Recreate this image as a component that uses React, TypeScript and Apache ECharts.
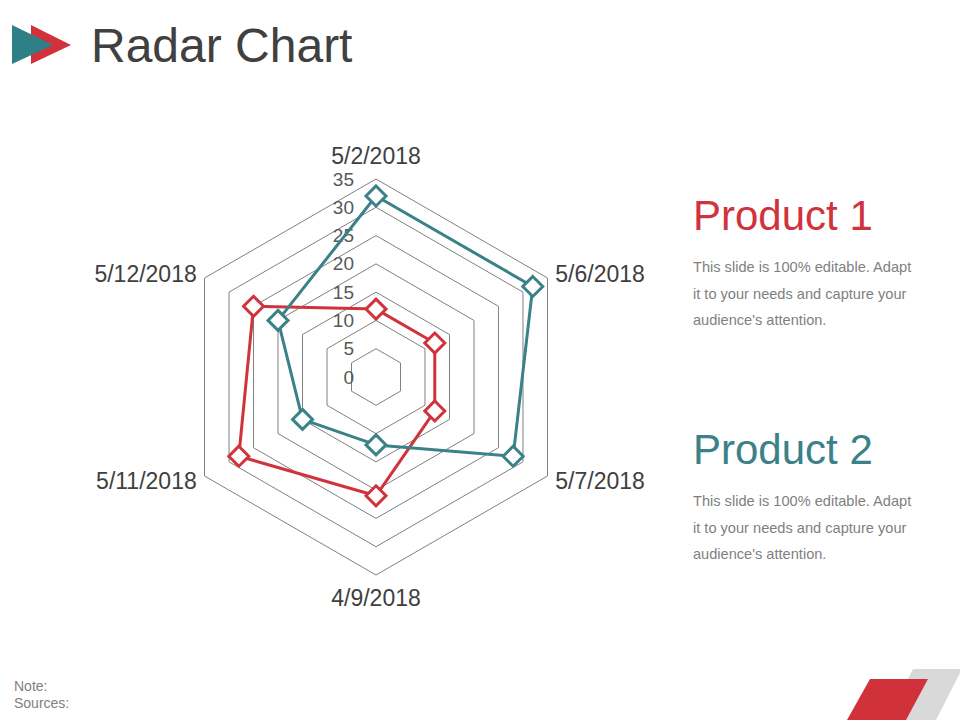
import React, { useEffect, useRef } from "react";
import * as echarts from "echarts";

// Axes listed clockwise from the top
const categories = ["5/2/2018", "5/6/2018", "5/7/2018", "4/9/2018", "5/11/2018", "5/12/2018"];
const product1 = [12, 12, 12, 21, 28, 25];
const product2 = [32, 32, 28, 12, 15, 20];
const axisMin = 0;
const axisMax = 35;
const axisSplits = 7;

const seriesNames = ["Product 1", "Product 2"];
const bodyLines = [
  "This slide is 100% editable. Adapt",
  "it to your needs and capture your",
  "audience's attention.",
];

const RED = "#d0333c";
const TEAL = "#3a8188";
const FONT = "'Liberation Sans', Arial, sans-serif";

// ECharts radar runs counter-clockwise: reorder clockwise lists
const ccw = <T,>(arr: T[]): T[] => [arr[0], ...arr.slice(1).reverse()];

export default function App() {
  const ref = useRef<HTMLDivElement>(null);

  useEffect(() => {
    document.body.style.margin = "0";
    const chart = echarts.init(ref.current!, null, { renderer: "svg" });
    const names = ccw(categories);

    const textBlock = (name: string, color: string, cy: number) => [
      {
        type: "text",
        style: {
          x: 693,
          y: cy,
          text: name,
          font: `42px ${FONT}`,
          fill: color,
          verticalAlign: "middle",
        },
      },
      ...bodyLines.map((t, i) => ({
        type: "text",
        style: {
          x: 693,
          y: cy + 51.5 + i * 26.5,
          text: t,
          font: `14.6px ${FONT}`,
          fill: "#7f7f7f",
          verticalAlign: "middle",
        },
      })),
    ];

    chart.setOption({
      animation: false,
      backgroundColor: "#ffffff",
      radar: {
        center: [376, 377],
        radius: 198,
        startAngle: 90,
        splitNumber: axisSplits,
        shape: "polygon",
        nameGap: 9,
        axisName: { color: "#404040", fontSize: 23, fontFamily: FONT, padding: [2, 0, 3, 0] },
        indicator: names.map((n, i) => ({
          name: n,
          min: axisMin,
          max: axisMax,
          axisLabel:
            i === 0
              ? { show: true, color: "#595959", fontSize: 19, fontFamily: FONT, margin: 22 }
              : { show: false },
        })),
        axisLine: { show: false },
        axisTick: { show: false },
        axisLabel: { show: false },
        splitLine: { lineStyle: { color: "#808080", width: 1 } },
        splitArea: { show: false },
      },
      series: [
        {
          type: "radar",
          symbol: "diamond",
          symbolSize: 20,
          data: [
            {
              name: seriesNames[0],
              value: ccw(product1),
              itemStyle: { color: "#ffffff", borderColor: RED, borderWidth: 3 },
              lineStyle: { color: RED, width: 3 },
            },
            {
              name: seriesNames[1],
              value: ccw(product2),
              itemStyle: { color: "#ffffff", borderColor: TEAL, borderWidth: 3 },
              lineStyle: { color: TEAL, width: 3 },
            },
          ],
        },
      ],
      graphic: [
        {
          type: "polygon",
          shape: { points: [[31, 25], [71, 45], [31, 64]] },
          style: { fill: "#d1313b" },
        },
        {
          type: "polygon",
          shape: { points: [[12, 25], [53, 45], [12, 64]] },
          style: { fill: "#2f7f87" },
        },
        {
          type: "text",
          style: {
            x: 91,
            y: 45,
            text: "Radar Chart",
            font: `48px ${FONT}`,
            fill: "#404040",
            verticalAlign: "middle",
          },
        },
        ...textBlock(seriesNames[0], RED, 215.5),
        ...textBlock(seriesNames[1], TEAL, 449.5),
        {
          type: "text",
          style: { x: 14, y: 686, text: "Note:", font: `14px ${FONT}`, fill: "#7f7f7f", verticalAlign: "middle" },
        },
        {
          type: "text",
          style: { x: 14, y: 703, text: "Sources:", font: `14px ${FONT}`, fill: "#7f7f7f", verticalAlign: "middle" },
        },
        {
          type: "polygon",
          shape: { points: [[913, 669], [962, 669], [936, 720], [887, 720]] },
          style: { fill: "#d9d9d9" },
        },
        {
          type: "polygon",
          shape: { points: [[870, 679], [928, 679], [906, 720], [847, 720]] },
          style: { fill: "#d1313b" },
        },
      ],
    });
    return () => chart.dispose();
  }, []);

  return (
    <div
      ref={ref}
      style={{ position: "absolute", left: 0, top: 0, width: 960, height: 720 }}
    />
  );
}
